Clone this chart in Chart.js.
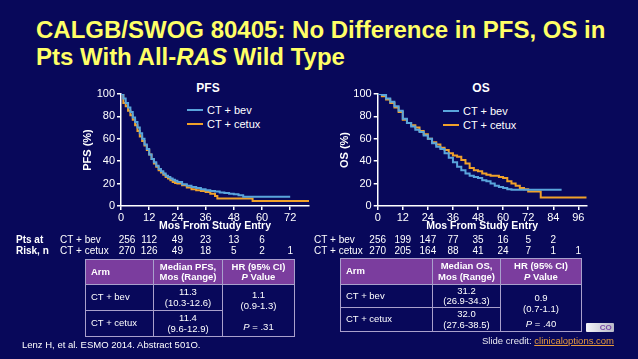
<!DOCTYPE html>
<html>
<head>
<meta charset="utf-8">
<script src="https://cdn.jsdelivr.net/npm/chart.js@4.4.0/dist/chart.umd.min.js"></script>
<style>
  html, body { margin: 0; padding: 0; }
  body {
    width: 638px; height: 359px; position: relative; overflow: hidden;
    background: #08085a; color: #fff;
    font-family: "Liberation Sans", Arial, sans-serif;
  }
  #title {
    position: absolute; left: 36px; top: 16px; white-space: nowrap;
    font-size: 24px; font-weight: bold; line-height: 27px; color: #ffff66;
  }
  .ctitle { position: absolute; top: 81px; font-size: 12px; font-weight: bold; transform: translateX(-50%); }
  .legend { position: absolute; font-size: 11px; line-height: 14px; }
  .legend div { position: relative; padding-left: 20px; white-space: nowrap; }
  .legend .sw { position: absolute; left: 0; top: 6px; width: 16px; height: 2px; }
  .box { position: absolute; top: 78px; height: 190px; }
  .risk { position: absolute; left: 16px; font-size: 10px; font-weight: bold; line-height: 12px; }
  table {
    position: absolute; border-collapse: collapse; table-layout: fixed;
    font-size: 9.5px; line-height: 10.5px;
  }
  td, th { border: 1px solid #a9a0cc; padding: 0 3px; text-align: center; font-weight: normal; white-space: nowrap; }
  th { background: #7b3d9e; font-weight: bold; }
  .arm { text-align: left; padding-left: 5px; }
  .hr { vertical-align: top; }
  #cite { position: absolute; left: 22px; top: 339px; font-size: 9.5px; }
  #credit { position: absolute; right: 24px; top: 335px; font-size: 9.5px; color: #e8e8f0; }
  #credit span { color: #e89a3c; text-decoration: underline; }
  #logo {
    position: absolute; left: 586px; top: 323px; width: 28px; height: 9px;
    background: linear-gradient(90deg, #f4f4f8, #b9b9c8); border-radius: 1px;
    font-size: 8px; line-height: 9px; font-weight: bold; color: #7a4aa8; text-align: right;
  }
</style>
</head>
<body>
<div id="title">CALGB/SWOG 80405: No Difference in PFS, OS in<br>Pts With All-<i>RAS</i> Wild Type</div>

<div class="ctitle" style="left:208px">PFS</div>
<div class="ctitle" style="left:481px">OS</div>

<div class="legend" id="pfsLegend" style="left:187px; top:103px"></div>
<div class="legend" id="osLegend" style="left:443px; top:104px"></div>

<div class="box" style="left:0; width:312px"><canvas id="pfsChart"></canvas></div>
<div class="box" style="left:310px; width:290px"><canvas id="osChart"></canvas></div>

<div class="risk" style="top:234px">Pts at</div>
<div class="risk" style="top:245px">Risk, n</div>

<table style="left:85px; top:259px; width:209px">
  <colgroup><col style="width:68px"><col style="width:69px"><col style="width:72px"></colgroup>
  <tr style="height:25px"><th class="arm">Arm</th><th>Median PFS,<br>Mos (Range)</th><th>HR (95% CI)<br><i>P</i> Value</th></tr>
  <tr style="height:26px"><td class="arm">CT + bev</td><td>11.3<br>(10.3-12.6)</td>
    <td class="hr" rowspan="2" style="padding-top:5px"><div>1.1<br>(0.9-1.3)</div><div style="margin-top:11px"><i>P</i> = .31</div></td></tr>
  <tr style="height:26px"><td class="arm">CT + cetux</td><td>11.4<br>(9.6-12.9)</td></tr>
</table>

<table style="left:340px; top:258px; width:241px">
  <colgroup><col style="width:92px"><col style="width:68px"><col style="width:81px"></colgroup>
  <tr style="height:26px"><th class="arm">Arm</th><th>Median OS,<br>Mos (Range)</th><th>HR (95% CI)<br><i>P</i> Value</th></tr>
  <tr style="height:23px"><td class="arm">CT + bev</td><td>31.2<br>(26.9-34.3)</td>
    <td class="hr" rowspan="2" style="padding-top:8px"><div>0.9<br>(0.7-1.1)</div><div style="margin-top:5px"><i>P</i> = .40</div></td></tr>
  <tr style="height:24px"><td class="arm">CT + cetux</td><td>32.0<br>(27.6-38.5)</td></tr>
</table>

<div id="cite">Lenz H, et al. ESMO 2014. Abstract 501O.</div>
<div id="logo">CO&nbsp;</div>
<div id="credit">Slide credit: <span>clinicaloptions.com</span></div>

<script>
// arms and colours
const arms = ['CT + bev', 'CT + cetux'];
const armColors = ['#5aa5dc', '#f0a12a'];

// PFS curves (months, % free of progression)
const pfsBevMonths = [0, 1, 2, 3, 4, 5, 6, 7, 8, 9, 10, 11, 12, 13, 14, 15, 16, 17, 18, 19, 20, 21, 22, 23, 24, 26, 28, 30, 32, 34, 36, 38, 40, 42, 44, 46, 48, 50, 52, 72];
const pfsBev = [100, 96, 92, 88, 84, 79, 75, 70, 65, 60, 55, 51, 46, 42, 39, 36, 33, 31, 29, 27, 26, 24.5, 23.5, 22.5, 21.5, 19.5, 18, 17, 16, 15, 14, 13.5, 13, 12, 11.5, 11, 10.5, 9.5, 8.3, 8.3];
const pfsCetuxMonths = [0, 1, 2, 3, 4, 5, 6, 7, 8, 9, 10, 11, 12, 13, 14, 15, 16, 17, 18, 19, 20, 21, 22, 23, 24, 26, 28, 30, 32, 34, 36, 38, 40, 41, 56, 80];
const pfsCetux = [100, 92, 89, 85, 81, 77, 72, 67, 62, 58, 54, 50, 46, 42, 38, 35, 32, 30, 28, 26, 24.5, 23, 21.5, 20.5, 20, 18.5, 16.5, 15, 14, 13.5, 12.5, 11, 9, 6.8, 4.5, 4.5];

// OS curves (months, % alive)
const osBevMonths = [0, 2, 4, 6, 8, 10, 12, 14, 16, 18, 20, 22, 24, 26, 28, 30, 32, 34, 36, 38, 40, 42, 44, 46, 48, 50, 52, 54, 56, 58, 60, 62, 64, 88];
const osBev = [100, 99, 96, 93, 89, 85, 78, 74, 71, 68, 66, 63, 60, 56, 53, 51, 47, 43, 39, 35, 32, 29, 27, 26, 25, 23, 22, 20, 18, 17, 16, 15, 14.5, 14.5];
const osCetuxMonths = [0, 2, 4, 6, 8, 10, 12, 14, 16, 18, 20, 22, 24, 26, 28, 30, 32, 34, 36, 38, 40, 42, 44, 46, 48, 50, 52, 54, 56, 58, 60, 62, 64, 66, 68, 70, 72, 78, 100];
const osCetux = [100, 98, 95, 92, 88, 84, 77, 74, 72, 70, 67, 64, 60, 57, 55, 52, 50, 47, 45, 44, 41, 38, 34, 32, 31, 29, 28, 27, 27, 26, 25, 22, 20, 18, 16, 15, 13, 7.7, 7.7];

// axes
const yTicks = [0, 20, 40, 60, 80, 100];
const pfsTicks = [0, 12, 24, 36, 48, 60, 72];
const osTicks = [0, 12, 24, 36, 48, 60, 72, 84, 96];

// patients at risk at each tick
const pfsRiskBev = [256, 112, 49, 23, 13, 6];
const pfsRiskCetux = [270, 126, 49, 18, 5, 2, 1];
const osRiskBev = [256, 199, 147, 77, 35, 16, 5, 2];
const osRiskCetux = [270, 205, 164, 88, 41, 24, 7, 1, 1];

const FONT = '"Liberation Sans", Arial, sans-serif';

// writes the at-risk numbers under each tick
const riskPlugin = {
  id: 'risk',
  afterDraw(chart, args, o) {
    const ctx = chart.ctx, x = chart.scales.x;
    ctx.save();
    ctx.fillStyle = '#fff';
    ctx.font = '10px ' + FONT;
    ctx.textBaseline = 'middle';
    ctx.textAlign = 'left';
    arms.forEach((a, i) => ctx.fillText(a, o.labelX, o.rowY[i]));
    ctx.textAlign = 'center';
    o.rows.forEach((row, i) => {
      row.forEach((n, j) => {
        // on the PFS panel the first column is nudged right of the axis
        const shift = j === 0 ? o.firstShift : 0;
        ctx.fillText(String(n), x.getPixelForValue(o.ticks[j]) + shift, o.rowY[i]);
      });
    });
    ctx.restore();
  }
};

function buildLegend(id) {
  const el = document.getElementById(id);
  arms.forEach((a, i) => {
    const d = document.createElement('div');
    d.innerHTML = '<span class="sw" style="background:' + armColors[i] + '"></span>' + a;
    el.appendChild(d);
  });
}

function makeChart(id, o) {
  new Chart(document.getElementById(id), {
    type: 'line',
    data: {
      datasets: o.series.map((s, i) => ({
        label: arms[i],
        data: s.months.map((m, k) => ({ x: m, y: s.values[k] })),
        borderColor: armColors[i],
        borderWidth: 2,
        stepped: true,
        pointRadius: 0,
        fill: false
      }))
    },
    options: {
      responsive: true,
      maintainAspectRatio: false,
      animation: false,
      layout: { padding: o.padding },
      plugins: {
        legend: { display: false },
        tooltip: { enabled: false },
        risk: { ticks: o.ticks, rows: o.risk, rowY: [162, 173], labelX: o.labelX, firstShift: o.firstShift }
      },
      scales: {
        x: {
          type: 'linear', min: 0, max: o.xMax,
          afterBuildTicks: (s) => { s.ticks = o.ticks.map(v => ({ value: v })); },
          afterFit: (s) => { s.height = 26; },
          grid: { display: true, drawOnChartArea: false, tickLength: 4, color: '#fff', lineWidth: 1.5 },
          border: { display: true, color: '#fff', width: 1.5 },
          ticks: { color: '#fff', font: { family: FONT, size: 11 }, padding: 1, maxRotation: 0, autoSkip: false },
          title: { display: true, text: 'Mos From Study Entry', color: '#fff', padding: 0, font: { family: FONT, size: 10.5, weight: 'bold' } }
        },
        y: {
          min: 0, max: 100,
          afterBuildTicks: (s) => { s.ticks = yTicks.map(v => ({ value: v })); },
          afterFit: (s) => { s.width = o.yWidth; },
          grid: { display: true, drawOnChartArea: false, tickLength: 4, color: '#fff', lineWidth: 1.5 },
          border: { display: true, color: '#fff', width: 1.5 },
          ticks: { color: '#fff', font: { family: FONT, size: 11 }, padding: 2 },
          title: { display: true, text: o.yTitle, color: '#fff', padding: 0, font: { family: FONT, size: 11, weight: 'bold' } }
        }
      }
    },
    plugins: [riskPlugin]
  });
}

buildLegend('pfsLegend');
buildLegend('osLegend');

makeChart('pfsChart', {
  series: [{ months: pfsBevMonths, values: pfsBev }, { months: pfsCetuxMonths, values: pfsCetux }],
  ticks: pfsTicks, xMax: 80, yTitle: 'PFS (%)', yWidth: 40,
  padding: { left: 81, right: 3, top: 16, bottom: 36 },
  risk: [pfsRiskBev, pfsRiskCetux], labelX: 60, firstShift: 6
});

makeChart('osChart', {
  series: [{ months: osBevMonths, values: osBev }, { months: osCetuxMonths, values: osCetux }],
  ticks: osTicks, xMax: 100, yTitle: 'OS (%)', yWidth: 39.7,
  padding: { left: 28, right: 13.3, top: 16, bottom: 36 },
  risk: [osRiskBev, osRiskCetux], labelX: 4, firstShift: 0
});
</script>
</body>
</html>
